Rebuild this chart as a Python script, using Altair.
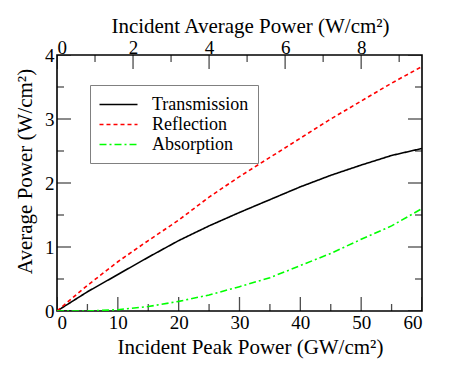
import altair as alt
import pandas as pd

# ---- data ----
peak_power = [0, 5, 10, 15, 20, 25, 30, 35, 40, 45, 50, 55, 60]
transmission = [0, 0.30, 0.57, 0.84, 1.10, 1.33, 1.54, 1.74, 1.94, 2.12, 2.28, 2.43, 2.54]
reflection = [0, 0.40, 0.77, 1.10, 1.42, 1.78, 2.10, 2.40, 2.70, 3.00, 3.28, 3.56, 3.82]
absorption = [0, 0.00, 0.02, 0.07, 0.15, 0.25, 0.38, 0.52, 0.71, 0.90, 1.12, 1.33, 1.60]

series = ["Transmission", "Reflection", "Absorption"]
colors = ["#000000", "#ff0000", "#00ff00"]
dashes = [[1, 0], [4, 3], [7, 3, 2, 3]]

bottom_major = [0, 10, 20, 30, 40, 50, 60]
bottom_minor = [5, 15, 25, 35, 45, 55]
left_major = [0, 1, 2, 3, 4]
left_minor = [0.5, 1.5, 2.5, 3.5]
top_major = [0, 2, 4, 6, 8]
top_minor = [1, 3, 5, 7, 9]
x_max = 60
y_max = 4
top_max = 9.6

FONT = "Liberation Serif"
W, H = 365, 256
MAJOR, MINOR = 28, 14  # full tick length (half is clipped away)

rows = []
for name, vals in zip(series, [transmission, reflection, absorption]):
    for x, v in zip(peak_power, vals):
        rows.append({"x": x, "y": v, "series": name})
df = pd.DataFrame(rows)

xs = alt.Scale(domain=[0, x_max], nice=False, zero=False)
ys = alt.Scale(domain=[0, y_max], nice=False, zero=False)

leg = alt.Legend(
    title=None, orient="none", legendX=33, legendY=30,
    symbolType="M-2,0L2,0", symbolSize=361, symbolStrokeWidth=1.5, symbolOffset=9,
    labelFont=FONT, labelFontSize=18, labelColor="black", labelOffset=23,
    padding=9, rowPadding=0, fillColor="white", strokeColor="#808080",
)

lines = alt.Chart(df).mark_line(strokeWidth=1.6, clip=True).encode(
    x=alt.X("x:Q", scale=xs, title="Incident Peak Power (GW/cm²)",
            axis=alt.Axis(values=bottom_major, format="d", labelPadding=2,
                          titlePadding=4, titleX=193)),
    y=alt.Y("y:Q", scale=ys, title="Average Power (W/cm²)",
            axis=alt.Axis(values=left_major, format="d", labelPadding=3,
                          titlePadding=9, titleY=116)),
    color=alt.Color("series:N", scale=alt.Scale(domain=series, range=colors), legend=leg),
    strokeDash=alt.StrokeDash("series:N", scale=alt.Scale(domain=series, range=dashes), legend=leg),
)

bt_rows = []
for v in bottom_major:
    bt_rows.append({"x": v, "y": 0, "len": MAJOR})
for v in bottom_minor:
    bt_rows.append({"x": v, "y": 0, "len": MINOR})
bottom_ticks = alt.Chart(pd.DataFrame(bt_rows)).mark_tick(
    orient="vertical", clip=True, color="black", thickness=1.3
).encode(
    x=alt.X("x:Q", scale=xs, axis=None),
    y=alt.Y("y:Q", scale=ys),
    size=alt.Size("len:Q", scale=None, legend=None),
)

lr_rows = []
for v in left_major:
    lr_rows += [{"x": 0, "y": v, "len": MAJOR}, {"x": x_max, "y": v, "len": MAJOR}]
for v in left_minor:
    lr_rows += [{"x": 0, "y": v, "len": MINOR}, {"x": x_max, "y": v, "len": MINOR}]
lr_ticks = alt.Chart(pd.DataFrame(lr_rows)).mark_tick(
    orient="horizontal", clip=True, color="black", thickness=1.3
).encode(
    x=alt.X("x:Q", scale=xs, axis=None),
    y=alt.Y("y:Q", scale=ys),
    size=alt.Size("len:Q", scale=None, legend=None),
)

tp_rows = [{"x": v, "y": y_max, "len": MAJOR} for v in top_major] + \
          [{"x": v, "y": y_max, "len": MINOR} for v in top_minor]
top_ticks = alt.Chart(pd.DataFrame(tp_rows)).mark_tick(
    orient="vertical", clip=True, color="black", thickness=1.3
).encode(
    x=alt.X("x:Q", scale=alt.Scale(domain=[0, top_max], nice=False, zero=False),
            title="Incident Average Power (W/cm²)",
            axis=alt.Axis(orient="top", values=top_major, format="d", labelPadding=-2,
                          titlePadding=2, titleX=193)),
    y=alt.Y("y:Q", scale=ys),
    size=alt.Size("len:Q", scale=None, legend=None),
)

chart = alt.layer(bottom_ticks, lr_ticks, top_ticks, lines).resolve_scale(
    x="independent"
).properties(
    width=W, height=H, background="white",
    padding={"left": 6, "top": 7, "right": 5, "bottom": 5},
).configure_view(
    stroke="black", strokeWidth=1.6
).configure_axis(
    domain=False, ticks=False, grid=False,
    labelFont=FONT, labelFontSize=19, labelColor="black",
    titleFont=FONT, titleFontSize=21, titleColor="black", titleFontWeight="normal",
)

chart.save("out.html", embed_options={"renderer": "svg", "actions": False})
